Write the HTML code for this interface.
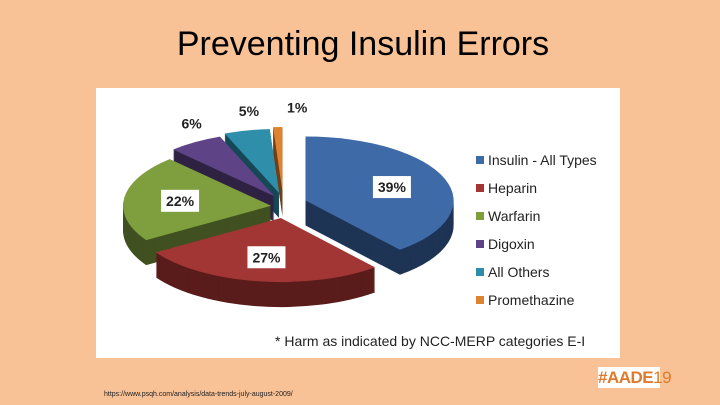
<!DOCTYPE html>
<html><head><meta charset="utf-8">
<style>
body{margin:0;width:720px;height:405px;background:#F8C196;position:relative;overflow:hidden;font-family:"Liberation Sans",sans-serif}
.title{position:absolute;left:0;width:726px;top:25px;text-align:center;font-size:34px;color:#000}
.url{position:absolute;left:104px;top:391px;font-size:7px;color:#222}
.logo{position:absolute;left:598px;top:367px;width:62px;height:21px;background:#fff;color:#E07A2B;font-weight:bold;font-size:17px;line-height:21px;text-align:center;letter-spacing:-0.5px}
</style></head><body>
<div class="title">Preventing Insulin Errors</div>
<svg id="chart" width="720" height="405" style="position:absolute;left:0;top:0">
<rect x="96" y="88" width="524" height="270" fill="#fff"/>
<g id="slices"></g><g id="labels"></g><g id="legend"></g>
<text x="275" y="346" font-size="14" fill="#222">* Harm as indicated by NCC-MERP categories E-I</text>
</svg>
<div class="url">https://www.psqh.com/analysis/data-trends-july-august-2009/</div>
<div class="logo">#AADE<span style="font-weight:normal">19</span></div>
<script>
const categories=["Insulin - All Types","Heparin","Warfarin","Digoxin","All Others","Promethazine"];
const values=[39,27,22,6,5,1];
const topColors=["#3F6AA8","#A13634","#7F9E3E","#5E4486","#2F8FAA","#E08330"];
const sideColors=["#1F3455","#5A1C1B","#405020","#2F2243","#174856","#70401A"];
const explode=[24,14,12,16,18,20];
const NS="http://www.w3.org/2000/svg";
const cx=283,cy=207,rx=148,ry=64,depth=25;
const total=values.reduce((a,b)=>a+b,0);
function pt(x0,y0,a){return [x0+rx*Math.sin(a),y0-ry*Math.cos(a)];}
function wedge(x0,y0,a0,a1){const p0=pt(x0,y0,a0),p1=pt(x0,y0,a1);const large=(a1-a0)>Math.PI?1:0;
return `M${x0},${y0}L${p0[0]},${p0[1]}A${rx},${ry} 0 ${large} 1 ${p1[0]},${p1[1]}Z`;}
const gS=document.getElementById('slices'),gL=document.getElementById('labels'),gLg=document.getElementById('legend');
let acc=0;const sl=[];
values.forEach((v,i)=>{const a0=acc/total*2*Math.PI;acc+=v;const a1=acc/total*2*Math.PI;const m=(a0+a1)/2;
sl.push({i,a0,a1,m,ox:cx+explode[i]*Math.sin(m),oy:cy-explode[i]*0.8*Math.cos(m)});});
sl.slice().sort((a,b)=>(-Math.cos(a.m))-(-Math.cos(b.m))).forEach(s=>{
 const g=document.createElementNS(NS,'g');
 
 
 for(let d=depth;d>0;d-=1){const p=document.createElementNS(NS,'path');p.setAttribute('d',wedge(s.ox,s.oy+d,s.a0,s.a1));p.setAttribute('fill',sideColors[s.i]);g.appendChild(p);}
 const p=document.createElementNS(NS,'path');p.setAttribute('d',wedge(s.ox,s.oy,s.a0,s.a1));p.setAttribute('fill',topColors[s.i]);g.appendChild(p);
 gS.appendChild(g);});
sl.forEach(s=>{const inside=values[s.i]>10;const r=inside?0.62:1.12;
 let x=s.ox+rx*r*Math.sin(s.m),y=s.oy-ry*r*Math.cos(s.m);
 if(!inside){y-=12;x+=6+(values[s.i]<3?14:0);}
 const g=document.createElementNS(NS,'g');
 
 
 if(inside){const b=document.createElementNS(NS,'rect');b.setAttribute('x',x-19);b.setAttribute('y',y-11);b.setAttribute('width',38);b.setAttribute('height',22);b.setAttribute('fill','#fff');g.appendChild(b);}
 const t=document.createElementNS(NS,'text');t.setAttribute('x',x);t.setAttribute('y',y+5);t.setAttribute('text-anchor','middle');t.setAttribute('font-size','14');t.setAttribute('font-weight','bold');t.setAttribute('fill','#222');t.textContent=values[s.i]+'%';g.appendChild(t);
 gL.appendChild(g);});
categories.forEach((c,i)=>{const y=160+i*28;const g=document.createElementNS(NS,'g');
 
 
 const r=document.createElementNS(NS,'rect');r.setAttribute('x',476);r.setAttribute('y',y-4);r.setAttribute('width',8);r.setAttribute('height',8);r.setAttribute('fill',topColors[i]);g.appendChild(r);
 const t=document.createElementNS(NS,'text');t.setAttribute('x',488);t.setAttribute('y',y+5);t.setAttribute('font-size','14');t.setAttribute('fill','#222');t.textContent=c;g.appendChild(t);
 gLg.appendChild(g);});
</script>
</body></html>
